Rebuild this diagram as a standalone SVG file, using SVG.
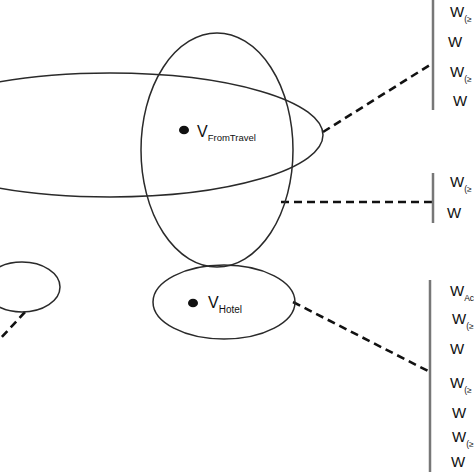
<svg xmlns="http://www.w3.org/2000/svg" width="474" height="474" viewBox="0 0 474 474">
<style>
.shape{fill:none;stroke:#2a2a2a;stroke-width:1.5}
.dash{fill:none;stroke:#111;stroke-width:2.6;stroke-dasharray:8 5}
.bracket{fill:none;stroke:#777;stroke-width:2.5}
.lbl{font-family:"Liberation Sans",Arial,sans-serif;fill:#111}
.w{font-size:15px}
.v{font-size:16px}
.sub{font-size:9.5px}
.s2{font-size:8.5px}
</style>
<rect width="474" height="474" fill="#fff"/>
<g id="connectors">
<line class="dash" x1="323" y1="132" x2="433" y2="63"/>
<line class="dash" x1="281" y1="202" x2="433" y2="202"/>
<line class="dash" x1="293" y1="302" x2="430" y2="372"/>
<line class="dash" x1="25" y1="312" x2="0" y2="339"/>
</g>
<g id="node-travel-wide">
<ellipse class="shape" cx="110" cy="135" rx="213" ry="62"/>
</g>
<g id="node-fromtravel">
<ellipse class="shape" cx="217" cy="150" rx="76" ry="117"/>
<ellipse cx="184" cy="130" rx="5" ry="4.3" fill="#111"/>
<text class="lbl" x="197" y="137"><tspan class="v">V</tspan><tspan class="sub" dy="4">FromTravel</tspan></text>
</g>
<g id="node-hotel">
<ellipse class="shape" cx="224" cy="302" rx="71" ry="37"/>
<ellipse cx="193" cy="303" rx="5" ry="4.3" fill="#111"/>
<text class="lbl" x="208" y="308"><tspan class="v">V</tspan><tspan class="sub" dy="5" style="font-size:10px">Hotel</tspan></text>
</g>
<g id="node-small-left">
<ellipse class="shape" cx="22" cy="287" rx="38" ry="25"/>
</g>
<g id="group-1">
<line class="bracket" x1="433" y1="0" x2="433" y2="110"/>
<text class="lbl w" x="450" y="17">W<tspan class="s2" dy="5">(≥</tspan></text>
<text class="lbl w" x="448" y="47">W</text>
<text class="lbl w" x="450" y="77">W<tspan class="s2" dy="5">(≥</tspan></text>
<text class="lbl w" x="453" y="106">W</text>
</g>
<g id="group-2">
<line class="bracket" x1="433" y1="173" x2="433" y2="223"/>
<text class="lbl w" x="450" y="187">W<tspan class="s2" dy="5">(≥</tspan></text>
<text class="lbl w" x="447" y="218">W</text>
</g>
<g id="group-3">
<line class="bracket" x1="430" y1="280" x2="430" y2="472"/>
<text class="lbl w" x="450" y="296">W<tspan class="s2" dy="5">Ac</tspan></text>
<text class="lbl w" x="452" y="324">W<tspan class="s2" dy="5">(≥</tspan></text>
<text class="lbl w" x="450" y="354">W</text>
<text class="lbl w" x="450" y="388">W<tspan class="s2" dy="5">(≥</tspan></text>
<text class="lbl w" x="452" y="418">W</text>
<text class="lbl w" x="452" y="442">W<tspan class="s2" dy="5">(≥</tspan></text>
<text class="lbl w" x="451" y="467">W</text>
</g>
</svg>
